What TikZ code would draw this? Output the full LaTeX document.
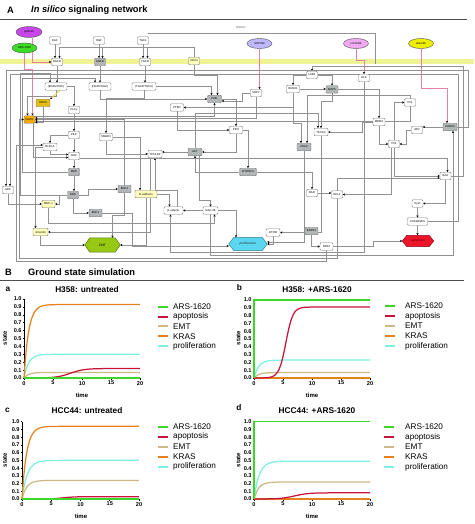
\documentclass[tikz,border=0pt]{standalone}
\usepackage{fontspec}
\setmainfont{Liberation Sans}
\usetikzlibrary{shapes.geometric,arrows.meta,calc}
\pgfdeclarelayer{bg}\pgfdeclarelayer{mid}
\pgfsetlayers{bg,mid,main}
\definecolor{edgegray}{RGB}{145,145,145}
\definecolor{boxline}{RGB}{120,120,120}
\definecolor{nodegray}{RGB}{178,182,182}
\definecolor{nodeyellow}{RGB}{255,255,190}
\definecolor{pinkedge}{RGB}{230,130,170}
\definecolor{yeledge}{RGB}{225,205,70}
\definecolor{membr}{RGB}{240,242,150}
\definecolor{gefc}{RGB}{200,70,235}
\definecolor{arsn}{RGB}{60,220,40}
\definecolor{shpc}{RGB}{190,185,255}
\definecolor{crizc}{RGB}{240,170,240}
\definecolor{alic}{RGB}{238,238,0}
\definecolor{hrasc}{RGB}{228,190,20}
\definecolor{krasn}{RGB}{245,170,0}
\definecolor{emtc}{RGB}{150,200,20}
\definecolor{prolc}{RGB}{90,215,240}
\definecolor{apopc}{RGB}{235,20,40}
\definecolor{arsc}{RGB}{60,215,40}
\definecolor{apoc}{RGB}{200,20,60}
\definecolor{emtl}{RGB}{205,185,135}
\definecolor{krasc}{RGB}{230,130,30}
\definecolor{proc}{RGB}{125,240,225}
\tikzset{
 box/.style={draw=boxline, fill=white, rounded corners=1pt, line width=0.4pt, minimum width=11pt, minimum height=7.5pt, inner sep=0.6pt, font=\fontsize{2.8}{3}\selectfont},
 gbox/.style={box, fill=nodegray},
 ybox/.style={box, fill=nodeyellow},
 drug/.style={ellipse, draw=black!70, line width=0.4pt, minimum width=25pt, minimum height=10pt, inner sep=0pt, font=\fontsize{2.8}{3}\selectfont},
 hexn/.style={inner sep=0pt, font=\fontsize{3.2}{3.5}\selectfont},
 e/.style={draw=edgegray, line width=0.75pt, -{Stealth[length=2.2pt,width=2.2pt,black]}},
 pe/.style={e, draw=pinkedge},
 ye/.style={e, draw=yeledge},
 fr/.style={draw=edgegray, line width=0.75pt},
 ax/.style={line width=0.6pt, black},
 cu/.style={line width=1.25pt},
 tk/.style={font=\fontsize{5.6}{6}\selectfont\bfseries},
 lg/.style={font=\fontsize{8.2}{9}\selectfont, anchor=west, inner sep=0pt},
 ttl/.style={font=\fontsize{8.3}{9}\selectfont\bfseries},
 hd/.style={font=\fontsize{9.3}{11}\selectfont\bfseries, anchor=west, inner sep=0pt},
 axl/.style={font=\fontsize{6}{6}\selectfont\bfseries},
}
\newcommand{\hexa}[3]{\begin{pgfonlayer}{mid}\draw[fill=#2, draw=#2!60!black, line width=0.5pt] (#1.west) -- ($(#1.north west)+(#3,0)$) -- ($(#1.north east)+(-#3,0)$) -- (#1.east) -- ($(#1.south east)+(-#3,0)$) -- ($(#1.south west)+(#3,0)$) -- cycle;\end{pgfonlayer}}
\newcommand{\myaxes}{%
 \draw[ax] (0,1) -- (0,0) -- (20,0);
 \foreach \i in {0,...,10} {\pgfmathsetmacro\tv{\i/10}
   \draw[ax] (0,\tv) -- ++(-1.5pt,0) node[tk,anchor=east,inner sep=0.6pt]{\pgfmathprintnumber[fixed,fixed zerofill,precision=1,assume math mode=true]{\tv}};}
 \foreach \t in {0,5,10,15,20} {\draw[ax] (\t,0) -- ++(0,-1.8pt) node[tk,anchor=north,inner sep=1pt]{\t};}
}
\begin{document}
\begin{tikzpicture}[x=1pt,y=-1pt]
\useasboundingbox (0,0) rectangle (474,524);
% ---------- headings
\node[hd] (hA) at (7,10) {A};
\node[hd] (tA) at (31,10) {{\itshape In silico} signaling network};
\draw[line width=0.9pt, black!70] (0,19.5) -- (467,19.5);
\node[hd] (hB) at (5,272) {B};
\node[hd] (tB) at (28,272) {Ground state simulation};
\draw[line width=0.9pt, black!70] (0,280) -- (464,280);
% ---------- network nodes
\node[font=\fontsize{2.8}{3}\selectfont, text=black!70] (nsclc) at (241,28) {NSCLC};
\node[drug, fill=gefc, minimum width=26pt, minimum height=11pt] (gef) at (29,32) {gefitinib};
\node[drug, fill=arsn] (arsd) at (24.5,48) {ARS-1620};
\node[drug, fill=shpc] (shpi) at (259.5,43.5) {SHP099};
\node[drug, fill=crizc] (criz) at (356,43.5) {crizotinib};
\node[drug, fill=alic] (ali) at (421,43.5) {alisertib};
\node[box] (EGF) at (55,40.5) {EGF};
\node[box] (HGF) at (99,40.5) {HGF};
\node[box] (TGFa) at (143,40.5) {TGFα};
\node[box] (EGFR) at (57,62) {EGFR};
\node[gbox] (HGFR) at (100,62) {HGFR};
\node[box] (TGFR) at (145,62) {TGFR};
\node[ybox] (CD44) at (194,61) {CD44};
\node[box, minimum width=22pt] (EGFRc) at (56,86.5) {(EGFR:EGF)};
\node[box, minimum width=22pt] (HGFRc) at (100,86.5) {(HGFR:HGF)};
\node[box, minimum width=24pt] (TGFRc) at (144,86.5) {(TGFR:TGFα)};
\node[box] (LKB1) at (312,75) {LKB1};
\node[box] (ALK) at (364,78) {ALK};
\node[box, fill=hrasc, minimum width=14pt] (HRAS) at (43,103) {HRAS};
\node[box, fill=krasn] (KRAS) at (29.5,119.5) {KRAS};
\node[box] (PLCg) at (74,110) {PLCγ};
\node[box] (PKC) at (74,135) {PKC};
\node[box, minimum width=14pt] (RHOA) at (50,147) {RHO-A};
\node[box] (RAF) at (74,156) {RAF};
\node[box, minimum width=13pt] (SMAD) at (106,137) {SMAD3};
\node[gbox] (MEK) at (74,172) {MEK};
\node[box, minimum width=14pt] (TCF) at (155,154) {TCF/LEF};
\node[gbox, minimum width=14pt] (PI3K) at (214.5,99) {PI3K};
\node[box] (SHP2) at (256,93) {SHP2};
\node[box, minimum width=13pt] (PTEN) at (177,107.5) {PTEN};
\node[box, minimum width=13pt] (PIP3) at (236,130) {PIP3};
\node[box, minimum width=13pt] (RUNX) at (293,89) {RUNX1};
\node[gbox, minimum width=12pt] (MAPK) at (332,89.5) {MAPK};
\node[gbox, minimum width=14pt] (AKT) at (195,152) {AKT};
\node[box, minimum width=14pt] (TSC) at (321,132) {TSC1/2};
\node[gbox, minimum width=14pt] (CDK) at (304,147) {CDK4};
\node[gbox, minimum width=17pt] (MTORC) at (248,172) {MTORC2};
\node[box] (P21) at (410,102.5) {P21};
\node[box, minimum width=12pt] (MDM2) at (379,122) {MDM2};
\node[box] (ATR) at (417,130) {ATR};
\node[gbox, minimum width=14pt] (AURKA) at (450,127) {AURKA};
\node[box] (P53) at (394,144) {P53};
\node[box] (BAX) at (445.5,176) {BAX};
\node[box] (SRC) at (8,190) {SRC};
\node[ybox, minimum width=13pt] (MUC) at (48.5,204) {MUC-1};
\node[gbox] (ERK) at (73,195) {ERK};
\node[gbox, minimum width=13pt] (ERK1) at (95.5,213) {ERK1};
\node[gbox, minimum width=13pt] (ERK2) at (124.5,189) {ERK2};
\node[ybox, minimum width=22pt] (ECAD) at (146,194) {E-cadherin};
\node[ybox, minimum width=15pt] (VIM) at (40.5,232) {vimentin};
\node[box, minimum width=19pt] (BCAT) at (173.5,210.5) {β-catenin};
\node[box, minimum width=15pt] (GSK) at (210.5,210.5) {GSK-3β};
\node[box] (BAD) at (312,193) {BAD};
\node[box, minimum width=14pt] (MTOR) at (273,232.5) {mTOR};
\node[gbox, minimum width=13pt] (EDRF) at (311.5,231) {EDRF1};
\node[box, minimum width=13pt] (NRF2) at (326.5,246.5) {NRF2};
\node[box] (BCL2) at (337,194.5) {BCL2};
\node[box] (CYTC) at (417.5,203.5) {CytC};
\node[box, minimum width=20pt] (CASP) at (417.5,221.5) {CASPASES};
\node[hexn, minimum width=35pt, minimum height=14pt] (EMT) at (102.5,245) {EMT};
\node[hexn, minimum width=38pt, minimum height=13pt, text=black!80] (PROL) at (248,244) {proliferation};
\node[hexn, minimum width=31pt, minimum height=11pt, text=red!40!black] (APOP) at (418,241) {apoptosis};
\hexa{EMT}{emtc}{5}
\hexa{PROL}{prolc}{5}
\hexa{APOP}{apopc}{4.5}
\coordinate (r1) at (463,66);
\coordinate (r2) at (468,70);
\coordinate (r3) at (458,74.5);
\coordinate (l5) at (20,73);
\coordinate (l6) at (22.5,78);
\coordinate (b1) at (19,258);
\coordinate (b2) at (16,261);
\coordinate (b3) at (453,255);
\coordinate (b4) at (170.5,252.5);
% ---------- network edges
\begin{pgfonlayer}{bg}
\fill[membr] (0,59) rectangle (474,64.5);
\draw[fr] (148,33) -- (375,33) -- (375,64);
\draw[e] (EGF.south) -- (EGF.south |- EGFR.north);
\draw[e] (HGF.south) -- (HGF.south |- HGFR.north);
\draw[e] (TGFa.south) -- (TGFa.south |- TGFR.north);
\draw[e] (CD44.north) -- ++(0,-10) -| ([xshift=2.5pt]EGFR.north);
\draw[e] (CD44.north) -- ++(0,-10) -| ([xshift=2.5pt]HGFR.north);
\draw[e] (CD44.north) -- ++(0,-10) -| ([xshift=2.5pt]TGFR.north);
\draw[e] (EGFR.south) -- (EGFR.south |- EGFRc.north);
\draw[e] (HGFR.south) -- (HGFRc.north);
\draw[e] (TGFR.south) -- (TGFR.south |- TGFRc.north);
\draw[pe] (gef.-60) |- (EGFR.west);
\draw[pe] (arsd.south) -- ++(0,16) -| ([xshift=3pt]KRAS.north);
\draw[e] (EGFRc.south) -- ++(0,6) -| ([xshift=-2pt]KRAS.north);
\draw[ye] ([xshift=4pt]EGFRc.south) -- (HRAS.north east);
\draw[e] (HRAS.south) |- ([yshift=-3pt]KRAS.east);
\draw[e] (EGFRc.east) -| (PLCg.north);
\draw[e] (PLCg.south) -- (PKC.north);
\draw[e] (PKC.south) -- (RAF.north);
\draw[e] (RAF.south) -- (MEK.north);
\draw[e] (MEK.south) -- (MEK.south |- ERK.north);
\draw[e] (PKC.west) -| (RHOA.north);
\draw[e] (RHOA.south) |- ([yshift=1.5pt]RAF.west);
\draw[e] ([xshift=4pt]KRAS.south) |- ([yshift=-1.5pt]RAF.west);
\draw[e] ([yshift=3pt]KRAS.east) -| (PI3K.south);
\draw[e] (TGFRc.south) -- ++(0,8) -| (SMAD.north);
\draw[e] (SMAD.east) -| ([xshift=-6pt]ECAD.north);
\draw[e] (SMAD.south) |- (TCF.west);
\draw[e] (AKT.west) -- (AKT.west -| TCF.east);
\draw[e] (PI3K.east) -| (PIP3.north);
\draw[e] (SHP2.west) -- ++(-8,0) |- ([yshift=-2pt]PI3K.east);
\draw[e] (PTEN.south) |- (PIP3.west);
\draw[e] (PIP3.south) |- (AKT.east);
\draw[pe] (shpi.south) -- (shpi.south |- SHP2.north);
\draw[pe] (criz.south) -- ++(0,12) -| (ALK.north);
\draw[pe] (ali.south) -- ++(0,40) -| ([xshift=-3pt]AURKA.north);
\draw[e] (LKB1.west) -| (RUNX.north);
\draw[e] (LKB1.east) -| (MAPK.north);
\draw[e] (RUNX.east) -- (RUNX.east -| MAPK.west);
\draw[e] (MAPK.south) -- ++(0,8) -| (TSC.north);
\draw[e] (MAPK.east) -| (MDM2.north);
\draw[e] (MDM2.west) -- ++(-10,0) |- (TSC.east);
\draw[e] (P53.north) |- (P21.west);
\draw[e] (MDM2.south) |- (P53.west);
\draw[e] (ATR.west) -- ++(-5,0) |- (P53.east);
\draw[e] (AURKA.west) -- (AURKA.west -| ATR.east);
\draw[e] (P53.south) |- (BAX.west);
\draw[e] ([xshift=-3pt]P53.south) |- (BCL2.east);
\draw[e] (BCL2.north) |- ([yshift=-2pt]BAX.west);
\draw[e] (BAX.south) |- (CYTC.east);
\draw[e] (CYTC.south) -- (CASP.north);
\draw[e] (CASP.south) -- (CASP.south |- APOP.north);
\draw[e] (BAD.east) -- (BAD.east -| BCL2.west);
\draw[e] (MTORC.east) -| (BAD.north);
\draw[e] (MTORC.west) -| (AKT.south);
\draw[e] (PIP3.east) -| (MTORC.north);
\draw[e] ([xshift=4pt]AKT.south) -- ++(0,44) -| (GSK.north);
\draw[e] (GSK.west) -- (BCAT.east);
\draw[e] ([xshift=4pt]BCAT.north) -- ++(0,-16) -| (TCF.south);
\draw[e] (ECAD.east) -| ([xshift=-4pt]BCAT.north);
\draw[e] (ERK.south) |- (ERK1.west);
\draw[e] (ERK.east) -- ++(10,0) |- (ERK2.west);
\draw[e] (ERK.west) -- ++(-8,0) |- (MUC.east);
\draw[e] (SRC.south) |- (MUC.west);
\draw[e] (MUC.south) -- ++(0,15) -| ([xshift=4pt]GSK.south);
\draw[e] (VIM.south) |- (EMT.west);
\draw[e] (ECAD.south) |- (EMT.east);
\draw[e] (ERK2.south) -- ++(0,22) -| ([xshift=10pt]EMT.north);
\draw[e] ([xshift=-5pt]TCF.south) |- (VIM.east);
\draw[e] (RHOA.west) -| ([xshift=-5pt]VIM.north);
\draw[e] (MTOR.south) |- (PROL.east);
\draw[e] (GSK.east) -| ([xshift=-12pt]PROL.north);
\draw[e] (ERK1.east) -- ++(30,0) |- ([yshift=-2pt]PROL.west);
\draw[e] (EDRF.south) |- (NRF2.west);
\draw[e] (NRF2.east) -- ++(40,0) |- (APOP.west);
\draw[e] (TSC.south) |- (MTOR.east);
\draw[e] (CDK.south) |- ([yshift=2pt]PROL.east);
\draw[e] (RUNX.south) -- ++(0,30) -| ([xshift=-3pt]CDK.north);
\draw[e] (RUNX.south) |- (PTEN.east);
\draw[e] (P21.north) -- ++(0,-3) -| ([xshift=3pt]CDK.north);
\draw[e] (AKT.north) -- ++(0,-35) -| ([xshift=-3pt]TSC.north);
\draw[e] (P21.south) |- ([yshift=-1.5pt]KRAS.east);
\draw[e] (SHP2.south) |- ([yshift=1.5pt]KRAS.east);
\draw[e] (ERK2.north) |- (KRAS.east);
\draw[e] (HGFRc.south) |- (PI3K.west);
\draw[e] (TGFRc.east) -| ([xshift=-3pt]PI3K.north);
\draw[e] (CD44.south) -- ++(0,10) -| ([xshift=3pt]PI3K.north);
\draw[e] ([yshift=-2.5pt]RAF.east) -| ([xshift=2pt]BAX.north);
\draw[e] (BAX.east) -| (r1) -| (LKB1.north);
\draw[e] (AURKA.east) -| (r2) -| ([xshift=-2pt]SRC.north);
\draw[e] (CASP.east) -| (r3) -| ([xshift=2pt]SRC.north);
\draw[e] (ERK.west) -| (l5) -| ([xshift=-6pt]EGFRc.north);
\draw[e] (MEK.west) -| (l6) -| ([xshift=-5pt]HGFRc.north);
\draw[e] (BCL2.south) |- (b1) |- (KRAS.west);
\draw[e] (NRF2.south) |- (b2) |- ([yshift=2pt]RHOA.west);
\draw[e] (GSK.south) |- (b3) -- ([xshift=3pt]AURKA.south);
\draw[e] (ALK.south) |- (b4) -- ([xshift=-3pt]BCAT.south);
\end{pgfonlayer}
% ---------- plots
\node[ttl] (ta) at (87,290) {H358: untreated};
\node[ttl] (tb) at (317,290) {H358: +ARS-1620};
\node[ttl] (tc) at (87,411) {HCC44: untreated};
\node[ttl] (td) at (317,411) {HCC44: +ARS-1620};
\node[ttl] (la) at (8,289) {a};
\node[ttl] (lb) at (239.5,288) {b};
\node[ttl] (lc) at (7.5,410) {c};
\node[ttl] (ld) at (239,408) {d};
\node[axl, rotate=90] (sa) at (5,338) {state};
\node[axl, rotate=90] (sb) at (238.5,338) {state};
\node[axl, rotate=90] (sc) at (5,460) {state};
\node[axl, rotate=90] (sd) at (238.5,460) {state};
\node[axl] (xa) at (82,395) {time};
\node[axl] (xb) at (312,395) {time};
\node[axl] (xc) at (81,516.5) {time};
\node[axl] (xd) at (312,516.5) {time};
% plot a
\begin{scope}[shift={(24,378)}, x=5.8pt, y=79pt]
 \myaxes
 \draw[cu,emtl] plot[domain=0:20,samples=80,smooth] (\x,{0.07*(1-exp(-\x/0.8))});
 \draw[cu,proc] plot[domain=0:20,samples=80,smooth] (\x,{0.3*(1-exp(-\x/0.8))});
 \draw[cu,krasc] plot[domain=0:20,samples=80,smooth] (\x,{0.93*(1-exp(-\x/0.8))});
 \draw[cu,apoc] plot[domain=0:20,samples=80,smooth] (\x,{0.12/(1+exp(-(\x-8)/1.2))});
 \draw[cu,arsc,line width=1.5pt] (0,0) -- (20,0);
\end{scope}
% plot b
\begin{scope}[shift={(254,378)}, x=5.8pt, y=78pt]
 \myaxes
 \draw[cu,krasc] (0,0) -- (20,0);
 \draw[cu,emtl] plot[domain=0:20,samples=80,smooth] (\x,{0.07*(1-exp(-\x/0.8))});
 \draw[cu,proc] plot[domain=0:20,samples=80,smooth] (\x,{0.23*(1-exp(-\x/0.8))});
 \draw[cu,apoc] plot[domain=0:20,samples=100,smooth] (\x,{0.91/(1+exp(-(\x-5.5)/0.6))});
 \draw[cu,arsc,line width=1.5pt] (0,0) -- (0,1) -- (20,1);
\end{scope}
% plot c
\begin{scope}[shift={(22,499)}, x=5.85pt, y=77.3pt]
 \myaxes
 \draw[cu,emtl] plot[domain=0:20,samples=80,smooth] (\x,{0.24*(1-exp(-\x/0.8))});
 \draw[cu,proc] plot[domain=0:20,samples=80,smooth] (\x,{0.5*(1-exp(-\x/0.9))});
 \draw[cu,krasc] plot[domain=0:20,samples=80,smooth] (\x,{0.94*(1-exp(-\x/0.8))});
 \draw[cu,apoc] plot[domain=0:20,samples=80,smooth] (\x,{0.03/(1+exp(-(\x-7)/1))});
 \draw[cu,arsc,line width=1.5pt] (0,0) -- (20,0);
\end{scope}
% plot d
\begin{scope}[shift={(254,499)}, x=5.8pt, y=77.3pt]
 \myaxes
 \draw[cu,krasc] (0,0) -- (20,0);
 \draw[cu,emtl] plot[domain=0:20,samples=80,smooth] (\x,{0.22*(1-exp(-\x/0.8))});
 \draw[cu,proc] plot[domain=0:20,samples=80,smooth] (\x,{0.49*(1-exp(-\x/0.9))});
 \draw[cu,apoc] plot[domain=0:20,samples=80,smooth] (\x,{0.08/(1+exp(-(\x-7)/1.2))});
 \draw[cu,arsc,line width=1.5pt] (0,0) -- (0,1) -- (20,1);
\end{scope}
% legends
\foreach \c/\t [count=\i from 0] in {arsc/ARS-1620, apoc/apoptosis, emtl/EMT, krasc/KRAS, proc/proliferation} {
  \draw[\c, line width=2pt] (158,{306.7+9.85*\i}) -- ++(10,0);
  \node[lg] at (173,{306.7+9.85*\i}) {\t};
  \draw[\c, line width=2pt] (385,{306+10*\i}) -- ++(10,0);
  \node[lg] at (405,{306+10*\i}) {\t};
  \draw[\c, line width=2pt] (158,{426.7+9.95*\i}) -- ++(10,0);
  \node[lg] at (173,{426.7+9.95*\i}) {\t};
  \draw[\c, line width=2pt] (384,{427+10*\i}) -- ++(10,0);
  \node[lg] at (405,{427+10*\i}) {\t};
}
\end{tikzpicture}
\end{document}
